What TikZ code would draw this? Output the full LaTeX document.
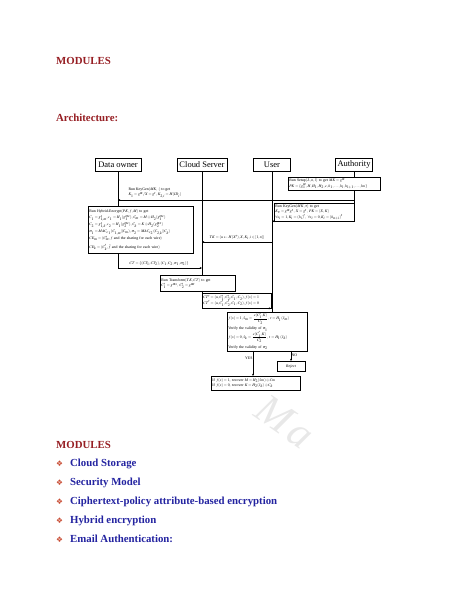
\documentclass[tikz,border=0pt]{standalone}
\usepackage{amsmath, amssymb}
\usepackage{mathptmx}
\usepackage{fontspec}
\setmainfont{Liberation Serif}
\newfontfamily\dingfont{DejaVu Sans}
\usepackage{tikz}
\usetikzlibrary{arrows.meta}
\usepackage{xcolor}
\definecolor{headred}{RGB}{150,30,35}
\definecolor{itemblue}{RGB}{35,35,160}
\definecolor{bulletred}{RGB}{200,75,50}
\newcommand{\boxfont}{\fontsize{5}{7}\selectfont}

\begin{document}
\begin{tikzpicture}[x=1.2911bp, y=-1.2911bp,
  hdr/.style={draw, font=\fontsize{11}{12}\selectfont, minimum height=16.8bp, inner sep=1.5pt},
  box/.style={draw, anchor=north west, align=left, inner sep=1.5pt, font=\boxfont},
  lbl/.style={align=left, inner sep=0.5pt, font=\boxfont},
  msg/.style={-{Stealth[length=3pt, width=2.4pt]}},
  heading/.style={anchor=base west, inner sep=0pt, text=headred, font=\fontsize{14}{16}\selectfont\bfseries},
  item/.style={anchor=base west, inner sep=0pt, text=itemblue, font=\fontsize{14}{16}\selectfont\bfseries}]
  \useasboundingbox (0,0) rectangle (474,612);
  % watermark
  \node[text=black!9, font=\fontsize{55}{55}\selectfont\itshape, rotate=-35] (mark) at (285,422) {M\hspace{6pt}a};

  \node[heading] (mtitle) at (56,65) {MODULES};
  \node[heading] (arch) at (56,122) {Architecture:};

  % parties
  \node[hdr, minimum width=59.4bp] (owner) at (118,164.5) {Data owner};
  \node[hdr, minimum width=64.6bp] (server) at (202,164.5) {Cloud Server};
  \node[hdr, minimum width=47.8bp] (user) at (272,164.5) {User};
  \node[hdr, minimum width=47.8bp] (auth) at (354,164.5) {Authority};

  % boxes
  \node[box, text width=115.8bp] (setup) at (288,177)
    {Run Setup$(\lambda,n,l)$ to get $MK=g^{\alpha}$\\
     $PK=\{g_1^{\alpha},H,H_1,H_2,e,h_1,\ldots,h_l,h_{l+1},\ldots,h_n\}$};
  \node[lbl, anchor=south west] (kglbl) at (128,198.5)
    {Run KeyGen$(MK,\cdot)$ to get\\ $K_1=g^{\alpha}/X=g^{t},\,K_{2,i}=H(ID_i)$};
  \node[box, text width=100bp, minimum height=23.2bp] (ukey) at (274,203)
    {Run KeyGen$(MK,\tau)$ to get\\
     $K_\tau=g^{\alpha}g^{t},\;X=g^{t},\;PK=(X,K)$\\
     $\forall x_i=1,K_i=(h_i)^t,\;\forall x_i=0,K_i=(h_{n+i})^t$};
  \node[box, text width=132.6bp, minimum height=60.7bp, font=\fontsize{5}{9}\selectfont] (hyb) at (88,206)
    {Run Hybrid-Encrypt$(PK,f,M)$ to get\\
     $C_1=g_{1,m}^{s},c_1=H_1(g_1^{\alpha s}),\,C_m=M\oplus H_2(g_1^{\alpha s})$\\
     $C_2=g_{1,k}^{s},c_2=H_1(g_2^{\alpha s}),\,C_k=K\oplus H_2(g_2^{\alpha s})$\\
     $\sigma_1=MAC_{c_1}(C_{1,m}\|C_m),\,\sigma_2=MAC_{c_2}(C_{2,k}\|C_k)$\\
     $CE_m=(C'_m,f$ and the sharing for each wire$)$\\[2pt]
     $CE_k=(C'_k,\bar{f}$ and the sharing for each wire$)$};
  \node[lbl, anchor=south] (tklbl) at (237,240.5) {$TK=(u\leftarrow H(X'),X,K_i,i\in[1,n])$};
  \node[lbl, anchor=south] (ctlbl) at (159,266.5) {$CT=\{(CT_1,CT_2),(C_1,C_2,\sigma_1,\sigma_2)\}$};
  \node[box, text width=93.8bp, minimum height=20.7bp] (trans) at (160,275)
    {Run Transform$(TK,CT)$ to get\\ $C'_1=g^{\alpha s},\;C'_2=g^{\alpha t}$};
  \node[box, text width=86bp, minimum height=19.4bp] (ctp) at (202,293)
    {$CT'=(u,C'_1,C'_2,C_1,C_2),f(x)=1$\\ $CT'=(u,C'_1,C'_2,C_1,C_2),f(x)=0$};
  \node[box, text width=100.3bp, minimum height=45.2bp, font=\fontsize{5}{8}\selectfont] (ver) at (227,312)
    {$f(x)=1,\hat{x}_m=\frac{e(C'_1,K)}{C'_2},\;t=H_1(\hat{x}_m)$\\[2.5pt]
     Verify the validity of $\sigma_1$\\
     $f(x)=0,\hat{x}_k=\frac{e(C'_1,K)}{C'_2},\;t=H_1(\hat{x}_k)$\\[2.5pt]
     Verify the validity of $\sigma_2$};
  \node[box, anchor=north, minimum width=36.2bp, minimum height=12.9bp, font=\fontsize{5}{6}\selectfont\itshape] (rej) at (291,361) {Reject};
  \node[box, text width=112bp, minimum height=18bp] (fin) at (211,376)
    {If $f(x)=1$, recover $M=H_2(\hat{x}_m)\oplus C_m$\\
     If $f(x)=0$, recover $K=H_2(\hat{x}_k)\oplus C_k$};

  % lifelines and messages
  \coordinate (kg) at (354,200);
  \coordinate (tk) at (272,242);
  \coordinate (ct) at (118,268);
  \coordinate (yes) at (253,0);
  \draw (owner.south) -- (owner.south |- hyb.north);
  \draw (owner.south |- hyb.south) -- (ct);
  \draw (server.south) -- (server.south |- trans.north);
  \draw (server.south |- trans.south) -- (ctp.north west);
  \draw (user.south) -- (user.south |- ver.north);
  \draw (auth.south) -- (auth.south |- setup.north);
  \draw (auth.south |- setup.south) -- (auth.south |- ukey.north);
  \draw[msg] (kg) -- (owner |- kg);
  \draw[msg] (ukey.south east) -- (user |- ukey.south);
  \draw[msg] (tk) -- (server |- tk);
  \draw[msg] (ct) -- (server |- ct);
  \draw[msg] (ctp.south west) -- (ctp.south east);
  \draw[msg] (yes |- ver.south) -- (yes |- fin.north) node[lbl, pos=0.3, left] (yeslbl) {YES};
  \draw[msg] (rej.north |- ver.south) -- (rej.north) node[lbl, pos=0.4, right] (nolbl) {NO};

  % module list
  \node[heading] (mods) at (56,448) {MODULES};
  \foreach \t [count=\i] in {Cloud Storage, Security Model, Ciphertext-policy attribute-based encryption, Hybrid encryption, Email Authentication:} {
    \node[item] (mod\i) at (70,{448+18.8*\i}) {\t};
    \node[anchor=base, inner sep=0pt, text=bulletred, font=\dingfont\fontsize{10}{10}\selectfont] (bul\i) at (59.5,{448+18.8*\i}) {❖};
  }
\end{tikzpicture}
\end{document}
